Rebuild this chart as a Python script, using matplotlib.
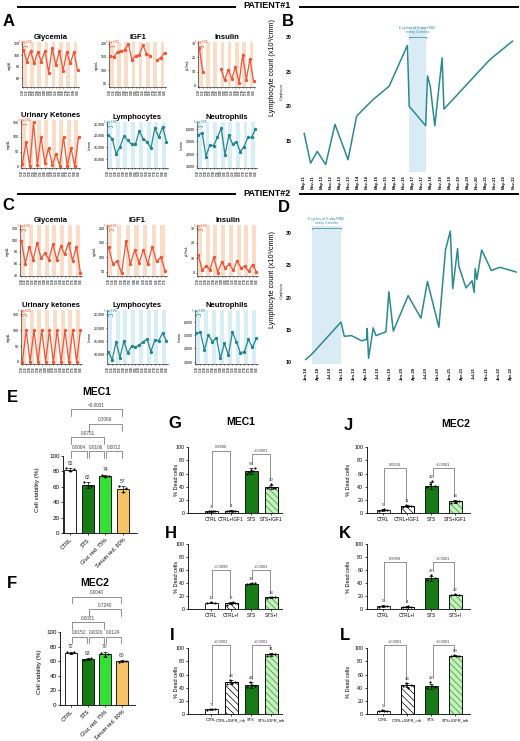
import matplotlib
matplotlib.use('Agg')
import matplotlib.pyplot as plt
import numpy as np
from matplotlib.lines import Line2D

plt.rcParams['font.family'] = ['Liberation Sans', 'DejaVu Sans']
plt.rcParams['hatch.linewidth'] = 0.5

W, H = 520, 741
nan = np.nan

# ---- patient #1 small panels (A) ----
cyc_labels = ['C1B', 'C1E', 'C2B', 'C2E', 'C3B', 'C3E', 'C4B', 'C4E',
              'C5B', 'C5E', 'C6B', 'C6E', 'C7B', 'C7E', 'C8B', 'C8E']
A_glyc = [110, 89, 108, 86, 106, 89, 108, 70, 113, 83, 108, 73, 106, 86, 106, 74]
A_igf1 = [155, 149, 170, 173, 176, 200, 139, 155, 157, 194, 163, 154, nan, 139, 148, 166]
A_ins = [27, 9.5, nan, nan, nan, nan, 12, 4, 11, 5, 13, 2, 22, 4, 19, 3]
A_ket = [9, 82, 0, 150, 5, 100, 11, 62, 5, 41, 2, 100, 0, 62, 0, 100]
A_lym = [20000, 18600, 12000, 15000, 19600, 17900, 16200, 16200, 21900, 18300,
         17300, 14400, 23300, 19100, 23600, 17300]
A_neu = [5470, 5680, 3760, 4680, 4630, 5290, 6050, 3890, 5470, 4760, 4950, 4160,
         4550, 5290, 5290, 6000]

# ---- patient #2 small panels (C) ----
C_glyc = [99, 60, 89, 67, 96, 69, 78, 67, 93, 67, 90, 76, 96, 65, 89, 44]
C_igf1 = [134, 78, 86, 46, 155, 77, 126, 81, 126, 77, 137, 86, 101, 52]
C_ins = [11.8, 1.8, 4.9, 2.2, 10.7, 0.3, 7.1, 3.3, 6, 1.8, 8.2, 3.3, 4.4, 1.1, 5.6, 0.7]
C_ket = [0, 100, 0, 100, 0, 100, 0, 100, 0, 100, 0, 100, 0, 100, 0, 100]
C_lym = [11000, 7900, 14750, 8750, 15000, 10400, 13100, 12600, 13500, 14750,
         15600, 11000, 15400, 15100, 17900, 15100]
C_neu = [5120, 5220, 3870, 5000, 4500, 4800, 3250, 4370, 3500, 5200, 4500, 3670,
         3750, 4670, 4070, 4750]

# ---- long-term lymphocytes (B, D) ----
B_labels = ['May-11', 'Nov-11', 'May-12', 'Nov-12', 'May-13', 'Nov-13', 'May-14', 'Nov-14',
            'May-15', 'Nov-15', 'May-16', 'Nov-16', 'May-17', 'Nov-17', 'May-18', 'Nov-18',
            'May-19', 'Nov-19', 'May-20', 'Nov-20', 'May-21', 'Nov-21', 'May-22', 'Nov-22']
B_t = [0.1, 0.8, 1.53, 2.45, 3.47, 4.9, 5.84, 7.66, 9.4, 11.4, 11.6, 13.4, 13.6, 13.9,
       14.4, 15.2, 15.4, 20.4, 22.9]
B_lym = [16.1, 11.8, 13.5, 11.6, 17.4, 12.3, 18.6, 21.0, 22.9, 28.8, 20.0, 17.2, 24.4,
         22.9, 17.2, 27.0, 19.6, 26.7, 29.4]
B_fmd = (11.6, 13.4)

D_labels = ['Jan-18', 'Apr-18', 'Jul-18', 'Oct-18', 'Jan-19', 'Apr-19', 'Jul-19', 'Oct-19',
            'Jan-20', 'Apr-20', 'Jul-20', 'Oct-20', 'Jan-21', 'Apr-21', 'Jul-21', 'Oct-21',
            'Jan-22', 'Apr-22']
D_t = [0, 0.5, 2.93, 3.2, 3.8, 4.64, 5.05, 5.1, 5.22, 5.6, 5.83, 6.66, 6.9, 7.27, 8.5,
       9.56, 10.1, 11.05, 11.6, 12.0, 12.2, 12.6, 12.7, 13.3, 13.8, 13.98, 14.06, 14.2,
       14.6, 15.4, 16.1, 17.6]
D_lym = [10.4, 11.2, 16.2, 14.0, 14.1, 13.3, 13.5, 15.2, 10.6, 15.3, 14.1, 14.7, 20.9,
         14.8, 20.3, 16.8, 22.5, 15.4, 27.4, 30.3, 21.4, 27.6, 24.9, 21.5, 22.6, 20.8,
         24.5, 22.8, 27.4, 24.2, 24.7, 23.9]
D_fmd = (0.5, 2.93)

# ---- cell viability (E, F) ----
EF_cats = ['CTRL', 'STS', 'Gluc red. 75%', 'Serum red. 90%']
E_mean = [82, 62, 74, 57]
E_pts = [[84, 81, 83], [66, 61, 61], [75, 73, 74], [61, 53, 58]]
E_err = [2, 4, 1.5, 4]
E_p = [(0, 1, '0.0004', 106), (1, 2, '0.0106', 106), (2, 3, '0.0012', 106),
       (0, 2, '0.0701', 124), (1, 3, '0.3069', 141), (0, 3, '<0.0001', 160)]
F_mean = [72, 63, 70, 60]
F_pts = [[73, 71, 73], [62, 63, 64], [72, 67, 70], [59, 61, 61]]
F_err = [1.5, 1.5, 3.5, 1.5]
F_p = [(0, 1, '0.0152', 94), (1, 2, '0.0026', 94), (2, 3, '0.0124', 94),
       (0, 2, '0.0031', 114), (1, 3, '0.7240', 132), (0, 3, '0.0040', 149)]

# ---- dead cells (G-L) ----
G_cats = ['CTRL', 'CTRL+IGF1', 'STS', 'STS+IGF1']
H_cats = ['CTRL', 'CTRL+I', 'STS', 'STS+I']
I_cats = ['CTRL', 'CTRL+IGFR_inh', 'STS', 'STS+IGFR_inh']
G_mean = [3, 4, 64, 40]
G_pts = [[2, 3, 3, 3, 3], [3, 4, 4, 4, 3], [60, 63, 66, 64, 69], [38, 40, 45, 39, 38]]
G_err = [0.5, 0.5, 4, 3]
G_p = [(0, 1, '0.9860', 95), (2, 3, '<0.0001', 90)]
H_mean = [10, 9, 39, 18]
H_pts = [[9, 11, 10], [7, 9, 10, 11, 10], [38, 39, 40, 40], [17, 18, 19, 18]]
H_err = [1, 1.5, 1, 1]
H_p = [(0, 1, '>0.9999', 60), (2, 3, '<0.0001', 60)]
I_mean = [7, 48, 44, 91]
I_pts = [[6, 8, 7, 7], [46, 52, 47, 48], [41, 48, 44, 43], [88, 91, 92, 92]]
I_err = [1, 3, 4, 2]
I_p = [(0, 1, '<0.0001', 105), (2, 3, '<0.0001', 105)]
J_mean = [5, 11, 42, 18]
J_pts = [[4, 5, 6, 5], [10, 12, 11, 11], [40, 44, 49, 42], [16, 18, 17, 19]]
J_err = [1, 1, 5, 2]
J_p = [(0, 1, '0.0024', 68), (2, 3, '<0.0001', 68)]
K_mean = [5, 4, 47, 22]
K_pts = [[4, 5, 5], [3, 4, 5, 4], [44, 52, 47], [21, 23, 22]]
K_err = [1, 1, 4, 1]
K_p = [(0, 1, '0.9999', 72), (2, 3, '<0.0001', 72)]
L_mean = [5, 44, 42, 89]
L_pts = [[4, 6, 5, 5], [42, 47, 40, 44], [39, 49, 42, 41], [88, 90, 89, 89]]
L_err = [1, 3, 4, 1]
L_p = [(0, 1, '<0.0001', 105), (2, 3, '<0.0001', 105)]

RED, RED_BAND = '#ee5436', '#fbdcc6'
TEAL, TEAL_BAND = '#23868f', '#d8eef7'

fig = plt.figure(figsize=(W / 100, H / 100), dpi=100)


def pax(x0, y0, x1, y1):
    # axes from pixel box (top-left origin)
    return fig.add_axes([x0 / W, 1 - y1 / H, (x1 - x0) / W, (y1 - y0) / H])


def ftxt(x, y, s, **kw):
    kw.setdefault('ha', 'center')
    kw.setdefault('va', 'center')
    fig.text(x / W, 1 - y / H, s, **kw)


def hline(x0, x1, y, lw=1.4):
    fig.add_artist(Line2D([x0 / W, x1 / W], [1 - y / H, 1 - y / H], color='black', lw=lw))


def small(box, vals, ylim, yticks, title, unit, col, band, comma=False):
    ax = pax(*box)
    n = len(vals)
    x = np.arange(n)
    for k in range(0, n, 2):
        ax.axvspan(k - 0.1, k + 0.9, color=band, lw=0, zorder=0)
    ax.plot(x, vals, color=col, lw=0.9, marker='o', ms=1.4, zorder=3)
    ax.set_xlim(-0.35, n - 0.6)
    ax.set_ylim(*ylim)
    ax.set_yticks(yticks)
    if comma:
        ax.set_yticklabels([f'{v:,}' for v in yticks])
    ax.set_xticks(x)
    ax.set_xticklabels(cyc_labels[:n], rotation=90)
    ax.tick_params(axis='y', labelsize=2.6, length=1, width=0.4, pad=0.8)
    ax.tick_params(axis='x', labelsize=2.2, length=1, width=0.4, pad=0.6)
    for s in ['top', 'right']:
        ax.spines[s].set_visible(False)
    for s in ['left', 'bottom']:
        ax.spines[s].set_linewidth(0.4)
    ax.set_ylabel(unit, fontsize=2.6, labelpad=1)
    ax.set_title(title, fontsize=5.5, fontweight='bold', pad=2.5)
    # 5-day FMD marker
    ax.plot([0, 0, 1, 1], [0.89, 0.92, 0.92, 0.89], color=col, lw=0.4,
            transform=ax.get_xaxis_transform(), clip_on=False)
    ax.text(0.5, 0.95, '5-day FMD', color=col, fontsize=1.8, ha='center', va='bottom',
            transform=ax.get_xaxis_transform(), clip_on=False)
    return ax


def longterm(box, t, vals, labels, xlim, ylim, yticks, fmd, txt_y, br_y):
    ax = pax(*box)
    ax.axvspan(fmd[0], fmd[1], color='#d9ecf6', lw=0, zorder=0)
    ax.plot(t, vals, color='#2a8a90', lw=1.1, zorder=3)
    ax.set_xlim(*xlim)
    ax.set_ylim(*ylim)
    ax.set_xticks(range(len(labels)))
    ax.set_xticklabels(labels, rotation=90, fontsize=3, fontweight='bold')
    ax.set_yticks(yticks)
    ax.tick_params(axis='y', labelsize=3.8, length=0, pad=6)
    ax.tick_params(axis='x', length=0, pad=2)
    for lab in ax.get_yticklabels():
        lab.set_fontweight('bold')
    for s in ax.spines.values():
        s.set_visible(False)
    mid = (fmd[0] + fmd[1]) / 2
    ax.text(mid, txt_y, '6 cycles of 5-day FMD\nevery 3 weeks', color='#2a8a90', fontsize=2.6,
            ha='center', va='bottom', linespacing=1.1, clip_on=False)
    ax.plot([fmd[0], fmd[0], fmd[1], fmd[1]], [br_y - 0.15, br_y, br_y, br_y - 0.15],
            color='#2a8a90', lw=0.5, clip_on=False)
    return ax


def barpanel(box, ytop, xlim, means, pts, errs, cats, styles, brackets, bw, rot, fs_x, fs_y,
             leg=None, fs_cat=None):
    ax = pax(*box)
    for i, m in enumerate(means):
        fc, ec, hatch = styles[i]
        ax.bar(i, m, width=bw, color=fc, edgecolor=ec, hatch=hatch, lw=0.6, zorder=2)
        if hatch:
            ax.bar(i, m, width=bw, color='none', edgecolor='black', lw=0.6, zorder=2)
        ax.errorbar(i, m, yerr=errs[i], color='black', lw=0.5, capsize=1.3, capthick=0.5, zorder=3)
        p = pts[i]
        off = np.linspace(-0.3, 0.3, len(p)) * bw
        ax.scatter(i + off, p, s=2.5, color='black', zorder=4, lw=0)
        ax.text(i, max(max(p), m + errs[i]) + 3, str(m), fontsize=fs_x * 0.9, ha='center',
                va='bottom', color='#333333')
    for a, b, s, y in brackets:
        ya = max(max(pts[a]), means[a] + errs[a]) + 6
        yb = max(max(pts[b]), means[b] + errs[b]) + 6
        if leg is not None:
            ya = max(ya, y - leg)
            yb = max(yb, y - leg)
        xa, xb = a + 0.06, b - 0.06
        ya = min(ya, y - 3)
        yb = min(yb, y - 3)
        ax.plot([xa, xa, xb, xb], [ya, y, y, yb], color='#555555', lw=0.45, clip_on=False)
        ax.text((xa + xb) / 2, y + 2, s, fontsize=fs_x * 0.85, ha='center', va='bottom',
                color='#444444', clip_on=False)
    ax.set_xlim(*xlim)
    ax.set_ylim(0, ytop)
    ax.set_yticks(range(0, 101, 20))
    ax.spines['left'].set_bounds(0, 100)
    for s in ['top', 'right']:
        ax.spines[s].set_visible(False)
    for s in ['left', 'bottom']:
        ax.spines[s].set_linewidth(0.6)
    ax.set_xticks(range(4))
    fc_ = fs_cat if fs_cat else fs_x
    if rot:
        ax.set_xticklabels(cats, rotation=45, ha='right', rotation_mode='anchor', fontsize=fc_)
    else:
        ax.set_xticklabels(cats, fontsize=fc_)
    ax.tick_params(axis='y', labelsize=fs_y, length=1.5, width=0.5, pad=1)
    ax.tick_params(axis='x', length=1.5, width=0.5, pad=1.5)
    return ax


# ---- headers ----
hline(18, 235, 7)
hline(300, 518, 7)
ftxt(267, 6, 'PATIENT#1', fontsize=6.5, fontweight='bold')
hline(18, 235, 194)
hline(300, 518, 194)
ftxt(267, 193, 'PATIENT#2', fontsize=6.5, fontweight='bold')

for s, x, y in [('A', 9, 21), ('B', 288, 21), ('C', 8, 205), ('D', 284, 207),
                ('E', 12, 398), ('F', 12, 583), ('G', 175, 424), ('H', 171, 533),
                ('I', 172, 635), ('J', 348, 426), ('K', 345, 533), ('L', 345, 635)]:
    ftxt(x, y, s, fontsize=12, fontweight='bold')

# ---- A ----
small((22, 42, 79, 87), A_glyc, (45, 123), [60, 80, 100, 120], 'Glycemia', 'mg/dL', RED, RED_BAND)
small((109, 42, 166, 87), A_igf1, (38, 206), [50, 100, 150, 200], 'IGF1', 'ng/mL', RED, RED_BAND)
small((198, 42, 255, 87), A_ins, (-1, 31), [0, 10, 20, 30], 'Insulin', 'µU/mL', RED, RED_BAND)
small((21, 120, 80, 168), A_ket, (-6, 158), [0, 50, 100, 150], 'Urinary Ketones', 'mg/dL',
      RED, RED_BAND)
small((107, 122, 168, 168), A_lym, (6000, 25700), [10000, 15000, 20000, 25000], 'Lymphocytes',
      '/cmm', TEAL, TEAL_BAND, comma=True)
small((197, 122, 257, 168), A_neu, (2840, 6530), [3000, 4000, 5000, 6000], 'Neutrophils',
      '/cmm', TEAL, TEAL_BAND, comma=True)

# ---- C ----
small((20, 225, 82, 276), C_glyc, (39, 126), [40, 60, 80, 100, 120], 'Glycemia', 'mg/dL',
      RED, RED_BAND)
small((107, 225, 167, 276), C_igf1, (36, 211), [50, 100, 150, 200], 'IGF1', 'ng/mL',
      RED, RED_BAND)
small((197, 225, 258, 276), C_ins, (-2, 32), [0, 10, 20, 30], 'Insulin', 'µU/mL', RED, RED_BAND)
small((21, 310, 82, 364), C_ket, (-7, 164), [0, 50, 100, 150], 'Urinary ketones', 'mg/dL',
      RED, RED_BAND)
small((107, 310, 168, 364), C_lym, (6350, 26600), [10000, 15000, 20000, 25000], 'Lymphocytes',
      '/cmm', TEAL, TEAL_BAND, comma=True)
small((195, 310, 258, 364), C_neu, (2825, 6875), [3000, 4000, 5000, 6000], 'Neutrophils',
      '/cmm', TEAL, TEAL_BAND, comma=True)

# ---- B, D ----
longterm((300, 26.6, 517, 172.2), B_t, B_lym, B_labels, (-0.36, 23.4), (10.5, 31.5),
         [15, 20, 25, 30], B_fmd, 30.4, 30.0)
longterm((300, 226, 517, 364), D_t, D_lym, D_labels, (-0.47, 17.53), (9.7, 31.1),
         [10, 15, 20, 25, 30], D_fmd, 31.2, 30.75)
for yc, ys in [(68, 92), (280, 291)]:
    ftxt(273, yc, 'Lymphocyte count (x10³/cmm)', fontsize=5.2, rotation=90)
    ftxt(282, ys, '# lymphocytes', fontsize=1.8, rotation=90)

# ---- E, F ----
ef_styles = [('white', 'black', None), ('#167a16', 'black', None),
             ('#35e035', 'black', None), ('#f7c465', 'black', None)]
barpanel((63, 400, 137, 533.3), 172, (-0.4, 3.8), E_mean, E_pts, E_err, EF_cats, ef_styles,
         E_p, 0.68, True, 4, 4.5, leg=9)
barpanel((60, 588, 135, 705), 161, (-0.63, 3.76), F_mean, F_pts, F_err, EF_cats, ef_styles,
         F_p, 0.68, True, 4, 4.5, leg=9)
ftxt(97, 392, 'MEC1', fontsize=7.5, fontweight='bold')
ftxt(95, 583, 'MEC2', fontsize=7.5, fontweight='bold')
ftxt(37, 490, 'Cell viability (%)', fontsize=4.5, rotation=90)
ftxt(40, 672, 'Cell viability (%)', fontsize=4.5, rotation=90)

# ---- G-L ----
gl_styles = [('white', 'black', None), ('white', 'black', '\\\\\\\\\\'),
             ('#167a16', 'black', None), ('#c6efbd', '#2f9a2f', '\\\\\\\\\\')]
col_g = ((188, 282), (-1.16, 3.55), 0.65)
col_j = ((366.7, 470), (-0.68, 3.62), 0.54)
rows = [(440, 513.3, 111), (537, 609.3, 110), (636, 714, 118.7)]
panels = [(col_g, rows[0], G_mean, G_pts, G_err, G_cats, G_p, 3.4),
          (col_g, rows[1], H_mean, H_pts, H_err, H_cats, H_p, 3.4),
          (col_g, rows[2], I_mean, I_pts, I_err, I_cats, I_p, 2.9),
          (col_j, rows[0], J_mean, J_pts, J_err, G_cats, J_p, 3.4),
          (col_j, rows[1], K_mean, K_pts, K_err, H_cats, K_p, 3.4),
          (col_j, rows[2], L_mean, L_pts, L_err, I_cats, L_p, 2.9)]
for (xr, xl, bw), (y0, y1, yt), m, p, e, c, br, fcat in panels:
    barpanel((xr[0], y0, xr[1], y1), yt, xl, m, p, e, c, gl_styles, br, bw, False, 3.4, 3.8,
             fs_cat=fcat)
ftxt(241, 422, 'MEC1', fontsize=7.5, fontweight='bold')
ftxt(456, 424, 'MEC2', fontsize=7.5, fontweight='bold')
for xc in [176, 349]:
    for yc in [480, 577, 682]:
        ftxt(xc, yc, '% Dead cells', fontsize=4, rotation=90)

plt.savefig('out.png', dpi=100)
